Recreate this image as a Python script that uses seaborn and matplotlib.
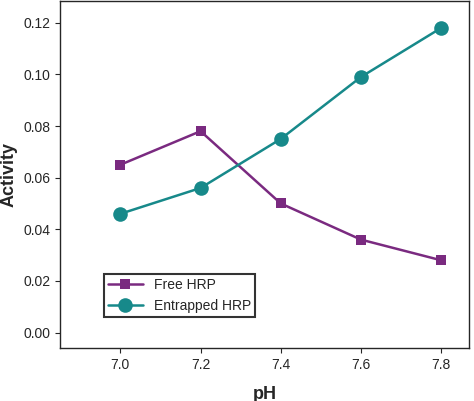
import matplotlib
matplotlib.use("Agg")
import matplotlib.pyplot as plt
import seaborn as sns
import pandas as pd

ph = [7.0, 7.2, 7.4, 7.6, 7.8]
free_hrp = [0.065, 0.078, 0.050, 0.036, 0.028]
entrapped_hrp = [0.046, 0.056, 0.075, 0.099, 0.118]

sns.set_style("ticks")
plt.rcParams["font.family"] = ["Liberation Sans", "DejaVu Sans"]

df = pd.DataFrame({"pH": ph * 2,
                   "Activity": free_hrp + entrapped_hrp,
                   "series": ["Free HRP"] * 5 + ["Entrapped HRP"] * 5})

fig, ax = plt.subplots(figsize=(4.74, 4.01), dpi=100)
fig.subplots_adjust(left=0.127, right=0.99, top=0.998, bottom=0.132)
sns.lineplot(data=df, x="pH", y="Activity", hue="series", style="series",
             markers={"Free HRP": "s", "Entrapped HRP": "o"}, dashes=False,
             palette={"Free HRP": "#7a2a80", "Entrapped HRP": "#17898a"},
             linewidth=1.8, markeredgewidth=0, ax=ax)
for line, ms in zip(ax.lines, [7.5, 10.5]):
    line.set_markersize(ms)

ax.set_xlim(6.85, 7.87)
ax.set_ylim(-0.006, 0.1285)
ax.set_xticks(ph)
ax.set_xticklabels([f"{v:.1f}" for v in ph])
yt = [0.0, 0.02, 0.04, 0.06, 0.08, 0.10, 0.12]
ax.set_yticks(yt)
ax.set_yticklabels([f"{v:.2f}" for v in yt])
ax.tick_params(labelsize=10)
ax.set_xlabel("pH", fontsize=13, fontweight="bold", labelpad=10)
ax.set_ylabel("Activity", fontsize=13, fontweight="bold")
for s in ax.spines.values():
    s.set_linewidth(1.0)

leg = ax.legend(loc="lower left", bbox_to_anchor=(0.09, 0.07), fontsize=10,
                frameon=True, fancybox=False, edgecolor="black", title=None,
                borderpad=0.3, handlelength=2.5)
leg.get_frame().set_linewidth(1.5)
for h, ms in zip(leg.get_lines(), [7.5, 10.5]):
    h.set_markersize(ms)
fig.savefig("out.png", dpi=100)
